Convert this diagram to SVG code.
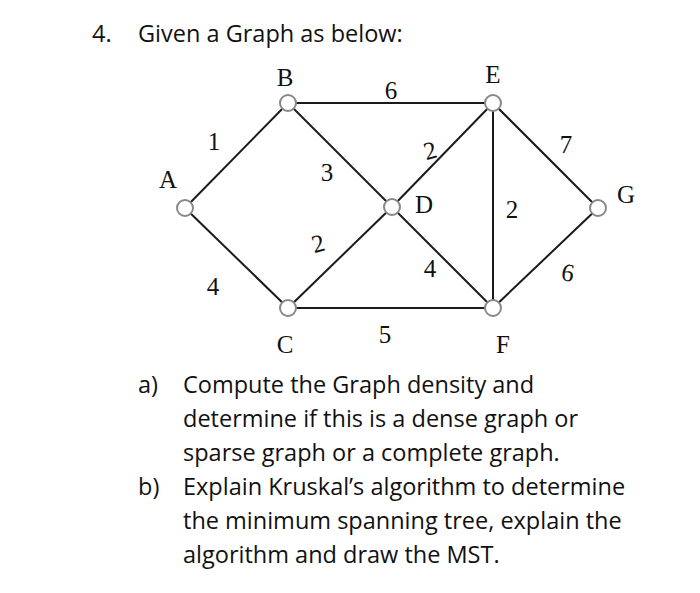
<svg xmlns="http://www.w3.org/2000/svg" width="700" height="593" viewBox="0 0 700 593">
<style>
.e{stroke:#1a1a1a;stroke-width:2;fill:none}
.n{fill:#fff;stroke:#888;stroke-width:2}
.l{font-family:"Liberation Serif",serif;font-size:25px;fill:#111;text-anchor:middle}
.t{font-family:"Open Sans","Liberation Sans",sans-serif;font-size:23.5px;fill:#111}
</style>
<rect width="700" height="593" fill="#fff"/>
<g id="connectors">
<line class="e" x1="185" y1="208" x2="288" y2="103"/>
<line class="e" x1="185" y1="208" x2="288" y2="308"/>
<line class="e" x1="288" y1="103" x2="493" y2="103"/>
<line class="e" x1="288" y1="103" x2="392" y2="207"/>
<line class="e" x1="288" y1="308" x2="392" y2="207"/>
<line class="e" x1="288" y1="308" x2="493" y2="308"/>
<line class="e" x1="392" y1="207" x2="493" y2="103"/>
<line class="e" x1="392" y1="207" x2="493" y2="308"/>
<line class="e" x1="493" y1="103" x2="493" y2="308"/>
<line class="e" x1="493" y1="103" x2="598" y2="208"/>
<line class="e" x1="493" y1="308" x2="598" y2="208"/>
<text class="l" x="391" y="99">6</text>
<text class="l" x="214" y="150">1</text>
<text class="l" x="327" y="181">3</text>
<text class="l" x="430" y="159" transform="rotate(-15 430 150)">2</text>
<text class="l" x="566" y="153">7</text>
<text class="l" x="512" y="218">2</text>
<text class="l" x="318" y="252" transform="rotate(-15 318 243)">2</text>
<text class="l" x="213" y="295">4</text>
<text class="l" x="430" y="277">4</text>
<text class="l" x="568" y="281" transform="rotate(10 568 272)">6</text>
<text class="l" x="385" y="343">5</text>
</g>
<g id="A"><circle class="n" cx="185" cy="208" r="8"/><text class="l" x="168" y="188">A</text></g>
<g id="B"><circle class="n" cx="288" cy="103" r="8"/><text class="l" x="285" y="86">B</text></g>
<g id="C"><circle class="n" cx="288" cy="308" r="8"/><text class="l" x="285" y="353">C</text></g>
<g id="D"><circle class="n" cx="392" cy="207" r="8"/><text class="l" x="424" y="213">D</text></g>
<g id="E"><circle class="n" cx="493" cy="103" r="8"/><text class="l" x="493" y="83">E</text></g>
<g id="F"><circle class="n" cx="493" cy="308" r="8"/><text class="l" x="503" y="353">F</text></g>
<g id="G"><circle class="n" cx="598" cy="208" r="8"/><text class="l" x="626" y="203">G</text></g>
<g id="text">
<text class="t" x="92" y="42">4.</text>
<text class="t" x="138" y="42">Given a Graph as below:</text>
<text class="t" x="138" y="393">a)</text>
<text class="t" x="183" y="393">Compute the Graph density and</text>
<text class="t" x="183" y="427">determine if this is a dense graph or</text>
<text class="t" x="183" y="461">sparse graph or a complete graph.</text>
<text class="t" x="138" y="495">b)</text>
<text class="t" x="183" y="495">Explain Kruskal’s algorithm to determine</text>
<text class="t" x="183" y="529">the minimum spanning tree, explain the</text>
<text class="t" x="183" y="563">algorithm and draw the MST.</text>
</g>
</svg>
